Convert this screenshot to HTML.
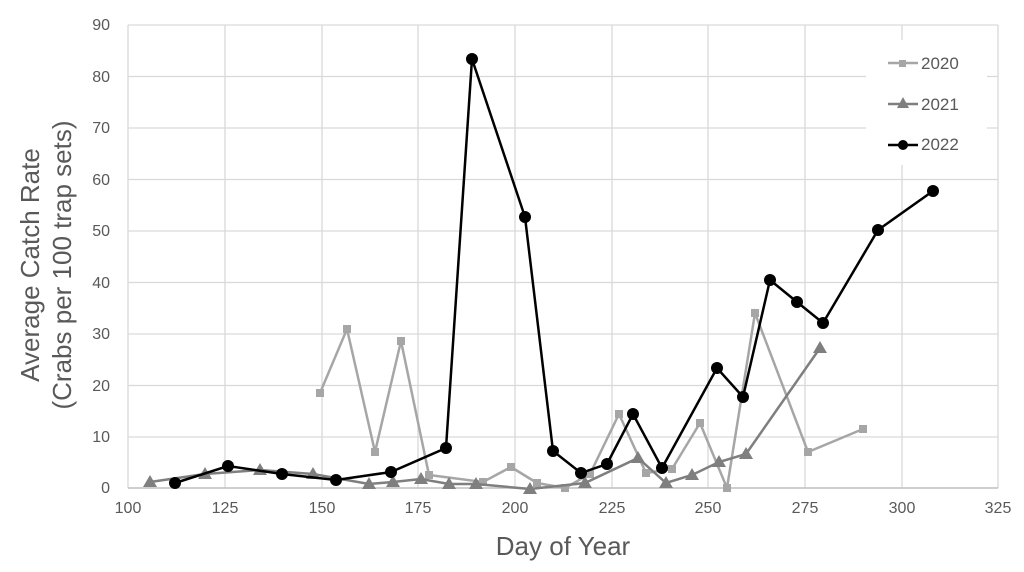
<!DOCTYPE html>
<html><head><style>body{margin:0;background:#fff}</style></head><body>
<svg width="1024" height="567" xmlns="http://www.w3.org/2000/svg" font-family="Liberation Sans, sans-serif">
<g stroke="#d9d9d9" stroke-width="1.3">
<line x1="128" y1="25" x2="998" y2="25"/><line x1="128" y1="76.5" x2="998" y2="76.5"/><line x1="128" y1="128" x2="998" y2="128"/><line x1="128" y1="179.5" x2="998" y2="179.5"/><line x1="128" y1="231" x2="998" y2="231"/><line x1="128" y1="282.5" x2="998" y2="282.5"/><line x1="128" y1="334" x2="998" y2="334"/><line x1="128" y1="385.5" x2="998" y2="385.5"/><line x1="128" y1="437" x2="998" y2="437"/>
<line x1="128" y1="25" x2="128" y2="488"/><line x1="225" y1="25" x2="225" y2="488"/><line x1="322" y1="25" x2="322" y2="488"/><line x1="418" y1="25" x2="418" y2="488"/><line x1="515" y1="25" x2="515" y2="488"/><line x1="612" y1="25" x2="612" y2="488"/><line x1="708" y1="25" x2="708" y2="488"/><line x1="805" y1="25" x2="805" y2="488"/><line x1="902" y1="25" x2="902" y2="488"/><line x1="998" y1="25" x2="998" y2="488"/>
</g>
<line x1="128" y1="488" x2="998" y2="488" stroke="#bfbfbf" stroke-width="1.5"/>
<rect x="866" y="40" width="121" height="125" fill="#fff"/>
<g font-size="16" fill="#595959" text-anchor="end">
<text x="110" y="30">90</text><text x="110" y="82">80</text><text x="110" y="133">70</text><text x="110" y="185">60</text><text x="110" y="236">50</text><text x="110" y="288">40</text><text x="110" y="339">30</text><text x="110" y="391">20</text><text x="110" y="442">10</text><text x="110" y="493">0</text>
</g>
<g font-size="16" fill="#595959" text-anchor="middle">
<text x="128" y="513">100</text><text x="225" y="513">125</text><text x="322" y="513">150</text><text x="418" y="513">175</text><text x="515" y="513">200</text><text x="612" y="513">225</text><text x="708" y="513">250</text><text x="805" y="513">275</text><text x="902" y="513">300</text><text x="998" y="513">325</text>
</g>
<text x="563" y="555" font-size="26" fill="#595959" text-anchor="middle">Day of Year</text>
<g font-size="26" fill="#595959" text-anchor="middle">
<text transform="translate(39,265) rotate(-90)">Average Catch Rate</text>
<text transform="translate(71,265) rotate(-90)">(Crabs per 100 trap sets)</text>
</g>
<!-- 2020 -->
<polyline fill="none" stroke="#a6a6a6" stroke-width="2.5" points="320,393 347,329 375,452 401,341 429,475 483,482 511,467 537,483 565,488 590,474 619,414 646,473 672,469 700,423 727,488 755,313 808,452 863,429"/>
<g fill="#a6a6a6">
<rect x="316" y="389" width="8" height="8"/><rect x="343" y="325" width="8" height="8"/><rect x="371" y="448" width="8" height="8"/><rect x="397" y="337" width="8" height="8"/><rect x="425" y="471" width="8" height="8"/><rect x="479" y="478" width="8" height="8"/><rect x="507" y="463" width="8" height="8"/><rect x="533" y="479" width="8" height="8"/><rect x="561" y="484" width="8" height="8"/><rect x="586" y="470" width="8" height="8"/><rect x="615" y="410" width="8" height="8"/><rect x="642" y="469" width="8" height="8"/><rect x="668" y="465" width="8" height="8"/><rect x="696" y="419" width="8" height="8"/><rect x="723" y="484" width="8" height="8"/><rect x="751" y="309" width="8" height="8"/><rect x="804" y="448" width="8" height="8"/><rect x="859" y="425" width="8" height="8"/>
</g>
<!-- 2021 -->
<polyline fill="none" stroke="#7f7f7f" stroke-width="2.5" points="150,482 205,474 260,470 313,474 369,484 393,482 421,479 449,484 476,484 530,489 585,483 638,458 666,483 692,475 719,462 746,454 820,348"/>
<g fill="#7f7f7f">
<path d="M150,475 l7,12 h-14z"/><path d="M205,467 l7,12 h-14z"/><path d="M260,463 l7,12 h-14z"/><path d="M313,467 l7,12 h-14z"/><path d="M369,477 l7,12 h-14z"/><path d="M393,475 l7,12 h-14z"/><path d="M421,472 l7,12 h-14z"/><path d="M449,477 l7,12 h-14z"/><path d="M476,477 l7,12 h-14z"/><path d="M530,482 l7,12 h-14z"/><path d="M585,476 l7,12 h-14z"/><path d="M638,451 l7,12 h-14z"/><path d="M666,476 l7,12 h-14z"/><path d="M692,468 l7,12 h-14z"/><path d="M719,455 l7,12 h-14z"/><path d="M746,447 l7,12 h-14z"/><path d="M820,341 l7,12 h-14z"/>
</g>
<!-- 2022 -->
<polyline fill="none" stroke="#000" stroke-width="2.5" points="175,483 228,466 282,474 336,480 391,472 446,448 472,59 525,217 553,451 581,473 607,464 633,414 662,468 717,368 743,397 770,280 797,302 823,323 878,230 933,191"/>
<g fill="#000">
<circle cx="175" cy="483" r="6"/><circle cx="228" cy="466" r="6"/><circle cx="282" cy="474" r="6"/><circle cx="336" cy="480" r="6"/><circle cx="391" cy="472" r="6"/><circle cx="446" cy="448" r="6"/><circle cx="472" cy="59" r="6"/><circle cx="525" cy="217" r="6"/><circle cx="553" cy="451" r="6"/><circle cx="581" cy="473" r="6"/><circle cx="607" cy="464" r="6"/><circle cx="633" cy="414" r="6"/><circle cx="662" cy="468" r="6"/><circle cx="717" cy="368" r="6"/><circle cx="743" cy="397" r="6"/><circle cx="770" cy="280" r="6"/><circle cx="797" cy="302" r="6"/><circle cx="823" cy="323" r="6"/><circle cx="878" cy="230" r="6"/><circle cx="933" cy="191" r="6"/>
</g>
<!-- legend -->
<line x1="888" y1="63" x2="918" y2="63" stroke="#a6a6a6" stroke-width="2.5"/><rect x="899" y="60" width="7" height="7" fill="#a6a6a6"/>
<line x1="888" y1="104" x2="918" y2="104" stroke="#7f7f7f" stroke-width="2.5"/><path d="M903,97 l6,11 h-12z" fill="#7f7f7f"/>
<line x1="888" y1="145" x2="918" y2="145" stroke="#000" stroke-width="2.5"/><circle cx="903" cy="145" r="5" fill="#000"/>
<g font-size="17" fill="#595959">
<text x="921" y="69">2020</text><text x="921" y="110">2021</text><text x="921" y="150">2022</text>
</g>
</svg>
</body></html>
